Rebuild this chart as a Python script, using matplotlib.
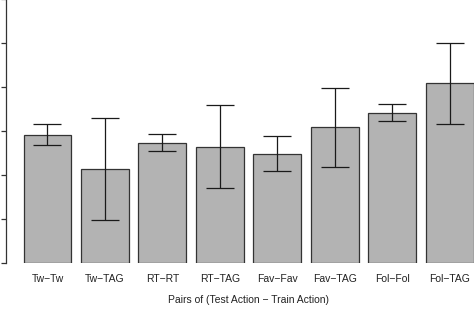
import matplotlib
matplotlib.use("Agg")
import matplotlib.pyplot as plt
import numpy as np

# pairs of (test action - train action)
pairs = ["Tw\u2212Tw", "Tw\u2212TAG", "RT\u2212RT", "RT\u2212TAG",
         "Fav\u2212Fav", "Fav\u2212TAG", "Fol\u2212Fol", "Fol\u2212TAG"]
means = [0.292, 0.214, 0.273, 0.264, 0.248, 0.308, 0.342, 0.408]
lower = [0.268, 0.098, 0.254, 0.170, 0.210, 0.219, 0.323, 0.317]
upper = [0.316, 0.330, 0.294, 0.358, 0.288, 0.397, 0.362, 0.500]
yticks = [0.0, 0.1, 0.2, 0.3, 0.4, 0.5, 0.6]

plt.rcParams['font.family'] = ['Liberation Sans', 'DejaVu Sans']

W, H = 474, 326
fig = plt.figure(figsize=(W / 100, H / 100), dpi=100)

# R barplot style: width 1, space 0.2
x = 0.7 + 1.2 * np.arange(len(pairs))
left_px, right_px = 5.5, 491.8
base_px = 263
ax = fig.add_axes([left_px / W, (H - base_px) / H, (right_px - left_px) / W, 264 / H])
ax.set_xlim(-0.176, 9.976)
ax.set_ylim(0, 0.6)

means = np.array(means)
yerr = np.array([means - np.array(lower), np.array(upper) - means])

ax.bar(x, means, width=1.0, color="#b3b3b3", edgecolor="#333333", linewidth=0.9)
ax.errorbar(x, means, yerr=yerr, fmt="none", ecolor="#1a1a1a",
            elinewidth=0.9, capsize=9.85, capthick=0.9)

for s in ["top", "right", "bottom"]:
    ax.spines[s].set_visible(False)
ax.spines["left"].set_color("#333333")
ax.spines["left"].set_linewidth(0.9)

ax.set_yticks(yticks)
ax.set_yticklabels([])
ax.tick_params(axis="y", direction="out", length=3.6, width=0.9, color="#333333")

ax.set_xticks(x)
ax.set_xticklabels(pairs, fontsize=7.5, color="#222222")
ax.tick_params(axis="x", length=0, pad=7.8)
ax.set_xlabel("Pairs of (Test Action \u2212 Train Action)", fontsize=7.5,
              color="#222222", labelpad=8)

fig.savefig("out.png", dpi=100)
